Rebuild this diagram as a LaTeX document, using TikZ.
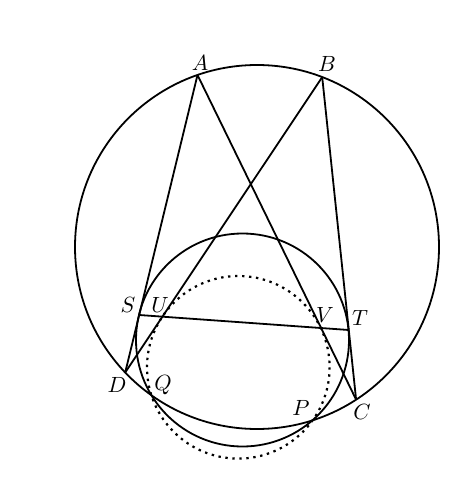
\documentclass[tikz,border=0pt]{standalone}
\newcommand{\biglab}[1]{\scalebox{2.2}{$#1$}}
\begin{document}
\begin{tikzpicture}[x=1pt,y=-1pt,
  geo/.style={line width=1.8pt,black},
  dotc/.style={line width=2.2pt,black,dash pattern=on 2.4pt off 4.6pt},
  lab/.style={inner sep=0pt}]
\useasboundingbox (0,0) rectangle (474,489);
% centres
\coordinate (O) at (257,247);
\coordinate (M) at (242.5,340);
\coordinate (N) at (238.3,367.3);
% points
\coordinate (A) at (197.5,75.0);
\coordinate (B) at (322.2,77.1);
\coordinate (C) at (356.1,399.6);
\coordinate (D) at (125.2,372.5);
\coordinate (S) at (139.2,315);
\coordinate (T) at (348.8,330);
\coordinate (U) at (162.4,316.7);
\coordinate (V) at (321.1,328.0);
\coordinate (P) at (312.4,420.4);
\coordinate (Q) at (151.5,395.3);
% circles
\draw[geo] (O) circle[radius=182];
\draw[geo] (M) circle[radius=106.5];
\draw[dotc] (N) circle[radius=91.3];
% lines
\draw[geo] (A) -- (D);
\draw[geo] (A) -- (C);
\draw[geo] (B) -- (D);
\draw[geo] (B) -- (C);
\draw[geo] (S) -- (T);
% labels
\node[lab] (lA) at (200,63) {\biglab{A}};
\node[lab] (lB) at (327,64) {\biglab{B}};
\node[lab] (lC) at (362,412) {\biglab{C}};
\node[lab] (lD) at (117,385) {\biglab{D}};
\node[lab] (lS) at (128,305) {\biglab{S}};
\node[lab] (lU) at (160,305) {\biglab{U}};
\node[lab] (lV) at (325,315) {\biglab{V}};
\node[lab] (lT) at (360,318) {\biglab{T}};
\node[lab] (lQ) at (163,385) {\biglab{Q}};
\node[lab] (lP) at (301,408) {\biglab{P}};
\end{tikzpicture}
\end{document}
